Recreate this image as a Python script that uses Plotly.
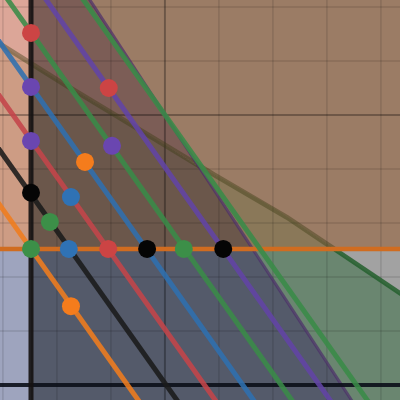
import numpy as np
import plotly.graph_objects as go

# ---------------- data (units: 1 grid step) ----------------
X_RANGE = [-31 / 54, 369 / 54]
Y_RANGE = [-15 / 54, 385 / 54]

# family of parallel lines  y = c + slope * x
par_slope = -1.41
par_intercepts = [2.52, 3.53, 4.53, 5.53, 6.53, 7.53, 8.50]
par_colors = ["#f07d1e", "#1b1b1b", "#c4454a", "#2f70b0", "#3a8b48", "#6244a6", "#3a8b48"]

# horizontal orange boundary
floor_y = 2.52

# steeper boundary line of the shaded wedge
wedge_intercept = 8.80
wedge_slope = -1.53

# descending green boundary curve
curve_x = [-0.574, 0.0, 2.02, 3.13, 4.48, 5.48, 6.83]
curve_y = [6.31, 5.94, 4.72, 4.04, 3.28, 2.61, 1.70]

# points
dot_x = [0.0, 0.0, 1.44, 0.0, 1.50, 1.00, 0.0, 0.74, 0.35, 0.0, 0.70, 1.43, 2.15, 2.83, 3.56, 0.74]
dot_y = [6.52, 5.52, 5.50, 4.52, 4.43, 4.13, 3.56, 3.48, 3.02, 2.52, 2.52, 2.52, 2.52, 2.52, 2.52, 1.46]
dot_colors = ["#cc4444", "#6a46b0", "#cc4444", "#6a46b0", "#6a46b0", "#f57c1c", "#050505", "#2f72b5",
              "#3c8f48", "#3c8f48", "#2f72b5", "#cc4444", "#050505", "#3c8f48", "#050505", "#f57c1c"]

# grid positions
grid_x = [-0.52, 0.48, 1.48, 2.48, 3.48, 4.48, 5.48, 6.48]
grid_y = [0, 1, 2, 3, 4, 5, 6, 7]
major_x = [2.48]
major_y = [5]

# ---------------- helpers ----------------
top = Y_RANGE[1] + 0.2
bottom = Y_RANGE[0] - 0.2
left = X_RANGE[0] - 0.2
right = X_RANGE[1] + 0.2

cx = np.array(curve_x)
cy = np.array(curve_y)


def curve(x):
    x = np.asarray(x, dtype=float)
    y = np.interp(x, cx, cy)
    s0 = (cy[1] - cy[0]) / (cx[1] - cx[0])
    s1 = (cy[-1] - cy[-2]) / (cx[-1] - cx[-2])
    y = np.where(x < cx[0], cy[0] + s0 * (x - cx[0]), y)
    y = np.where(x > cx[-1], cy[-1] + s1 * (x - cx[-1]), y)
    return y


def wedge(x):
    return wedge_intercept + wedge_slope * np.asarray(x)


def const(v):
    return lambda x: np.full_like(np.asarray(x, dtype=float), v)


def band(xlo, xhi, lowers, uppers, n=4000):
    xs = np.linspace(xlo, xhi, n)
    lo = np.max([f(xs) for f in lowers], axis=0)
    hi = np.min([f(xs) for f in uppers], axis=0)
    ok = hi > lo
    xs, lo, hi = xs[ok], lo[ok], hi[ok]
    return np.concatenate([xs, xs[::-1]]), np.concatenate([hi, lo[::-1]])


FL = const(floor_y)
TOP = const(top)
BOT = const(bottom)

regions = [
    # left strip (x < 0)
    (left, 0, [curve, FL], [TOP], "#dca698"),
    (left, 0, [FL], [curve], "#cd9c84"),
    (left, 0, [BOT], [FL], "#9ea4be"),
    # inside the wedge (x >= 0, below steep line)
    (0, right, [curve, FL], [wedge, TOP], "#7c5d56"),
    (0, right, [FL], [wedge, curve], "#6b574b"),
    (0, right, [BOT], [wedge, FL], "#545a6a"),
    # outside the wedge
    (0, right, [wedge, curve, FL], [TOP], "#9b7c65"),
    (0, right, [wedge, FL], [curve, TOP], "#8a7859"),
    (0, right, [wedge, BOT], [curve, FL], "#6a8670"),
    (0, right, [wedge, curve, BOT], [FL], "#a2a2a2"),
]

fig = go.Figure()

for xlo, xhi, lows, ups, col in regions:
    px, py = band(xlo, xhi, lows, ups)
    if len(px) == 0:
        continue
    fig.add_trace(go.Scatter(x=px, y=py, mode="lines", fill="toself", fillcolor=col,
                             line=dict(color=col, width=1), hoverinfo="skip", showlegend=False))


def seg_trace(xs_list, ys_list, color, width):
    xx, yy = [], []
    for a, b in zip(xs_list, ys_list):
        xx += list(a) + [None]
        yy += list(b) + [None]
    return go.Scatter(x=xx, y=yy, mode="lines", line=dict(color=color, width=width),
                      hoverinfo="skip", showlegend=False)


# grid
fig.add_trace(seg_trace([[g, g] for g in grid_x] + [[left, right] for _ in grid_y],
                        [[bottom, top] for _ in grid_x] + [[g, g] for g in grid_y],
                        "rgba(0,0,0,0.12)", 1.5))
fig.add_trace(seg_trace([[g, g] for g in major_x] + [[left, right] for _ in major_y],
                        [[bottom, top] for _ in major_x] + [[g, g] for g in major_y],
                        "rgba(0,0,0,0.22)", 2))

# boundary curve: faint olive above the orange boundary, darker green below it
xc = np.linspace(left, right, 600)
yc = curve(xc)
above = yc >= floor_y
fig.add_trace(go.Scatter(x=xc[above], y=yc[above], mode="lines",
                         line=dict(color="rgba(60,60,20,0.42)", width=5),
                         hoverinfo="skip", showlegend=False))
fig.add_trace(go.Scatter(x=xc[~above], y=yc[~above], mode="lines",
                         line=dict(color="rgba(35,95,45,0.85)", width=4.5),
                         hoverinfo="skip", showlegend=False))

# wedge boundary
xw = np.array([left, right])
fig.add_trace(go.Scatter(x=xw, y=wedge(xw), mode="lines",
                         line=dict(color="rgba(75,45,105,0.7)", width=3),
                         hoverinfo="skip", showlegend=False))

# orange horizontal
fig.add_trace(go.Scatter(x=[left, right], y=[floor_y, floor_y], mode="lines",
                         line=dict(color="#d06c20", width=4.5),
                         hoverinfo="skip", showlegend=False))

# axes lines
fig.add_trace(go.Scatter(x=[left, right], y=[0, 0], mode="lines",
                         line=dict(color="rgba(12,16,26,0.9)", width=4),
                         hoverinfo="skip", showlegend=False))
fig.add_trace(go.Scatter(x=[0, 0], y=[bottom, top], mode="lines",
                         line=dict(color="rgba(22,18,18,0.92)", width=5),
                         hoverinfo="skip", showlegend=False))

# parallel lines
xl = np.array([left, right])
for c, col in zip(par_intercepts, par_colors):
    fig.add_trace(go.Scatter(x=xl, y=c + par_slope * xl, mode="lines",
                             line=dict(color=col, width=5), opacity=0.88,
                             hoverinfo="skip", showlegend=False))

# points
fig.add_trace(go.Scatter(x=dot_x, y=dot_y, mode="markers",
                         marker=dict(color=dot_colors, size=18, line=dict(width=0)),
                         hoverinfo="skip", showlegend=False))

fig.update_layout(
    width=400, height=400,
    margin=dict(l=0, r=0, t=0, b=0),
    paper_bgcolor="white", plot_bgcolor="white",
    xaxis=dict(range=X_RANGE, showgrid=False, zeroline=False, showticklabels=False,
               ticks="", showline=False, fixedrange=True),
    yaxis=dict(range=Y_RANGE, showgrid=False, zeroline=False, showticklabels=False,
               ticks="", showline=False, fixedrange=True),
)

fig.write_html("out.html", config={"displayModeBar": False},
               post_script="document.body.style.margin='0';document.body.style.overflow='hidden';")
